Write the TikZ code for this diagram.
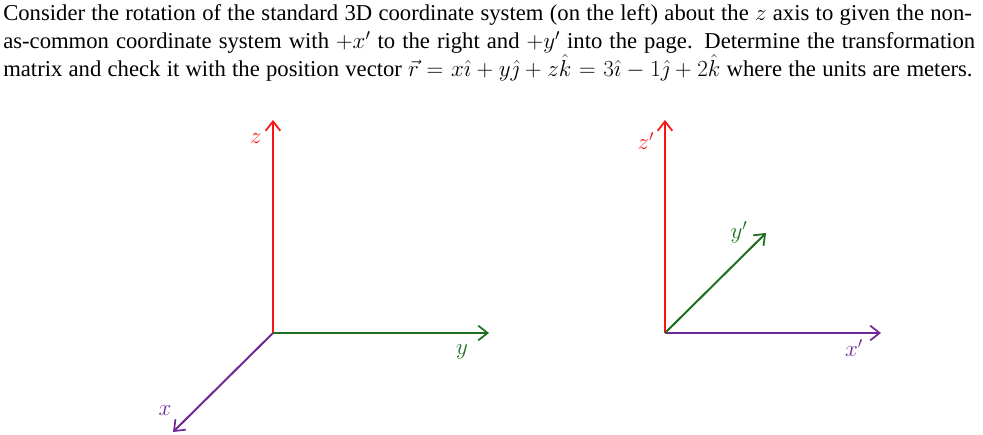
\documentclass[tikz,border=0pt]{standalone}
\usepackage{fontspec}
\setmainfont{Liberation Serif}
\usetikzlibrary{arrows.meta}
\definecolor{axred}{RGB}{250,20,20}
\definecolor{axgreen}{RGB}{30,110,30}
\definecolor{axpurple}{RGB}{112,40,150}
\begin{document}
\begin{tikzpicture}[x=0.75pt,y=-0.75pt,
  axis/.style={line width=1.5pt,-{Straight Barb[length=7pt,width=11pt,line width=1.3pt]}},
  txtline/.style={anchor=base west,inner sep=0pt,font=\fontsize{17pt}{20pt}\selectfont},
  axlabel/.style={inner sep=0pt,font=\fontsize{17pt}{20pt}\selectfont}]
\useasboundingbox (0,0) rectangle (983,435);
\node[txtline] (l1) at (3,21) {\makebox[726.5pt][s]{Consider the rotation of the standard 3D coordinate system (on the left) about the $z$ axis to given the non-}};
\node[txtline] (l2) at (3,49) {\makebox[729pt][s]{as-common coordinate system with $+x'$ to the right and $+y'$ into the page. Determine the transformation}};
\node[txtline] (l3) at (3,77) {\makebox[727pt][s]{matrix and check it with the position vector $\vec{r}=x\hat{\imath}+y\hat{\jmath}+z\hat{k}=3\hat{\imath}-1\hat{\jmath}+2\hat{k}$ where the units are meters.}};
% left frame
\coordinate (O1) at (273,333);
\coordinate (Z1) at (273,120);
\coordinate (Y1) at (489,333);
\coordinate (X1) at (173,432);
\draw[axis,axred] (O1) -- (Z1);
\draw[axis,axgreen] (O1) -- (Y1);
\draw[axis,axpurple] (O1) -- (X1);
\node[axlabel,text=axred] (zl) at (256,139) {$z$};
\node[axlabel,text=axgreen] (yl) at (462,352) {$y$};
\node[axlabel,text=axpurple] (xl) at (165,411) {$x$};
% right frame
\coordinate (O2) at (665,333);
\coordinate (Z2) at (665,120);
\coordinate (X2) at (881,333);
\coordinate (Y2) at (766,233);
\draw[axis,axred] (O2) -- (Z2);
\draw[axis,axpurple] (O2) -- (X2);
\draw[axis,axgreen] (O2) -- (Y2);
\node[axlabel,text=axred] (zpl) at (646,141) {$z'$};
\node[axlabel,text=axgreen] (ypl) at (739,232) {$y'$};
\node[axlabel,text=axpurple] (xpl) at (854,348) {$x'$};
\end{tikzpicture}
\end{document}
